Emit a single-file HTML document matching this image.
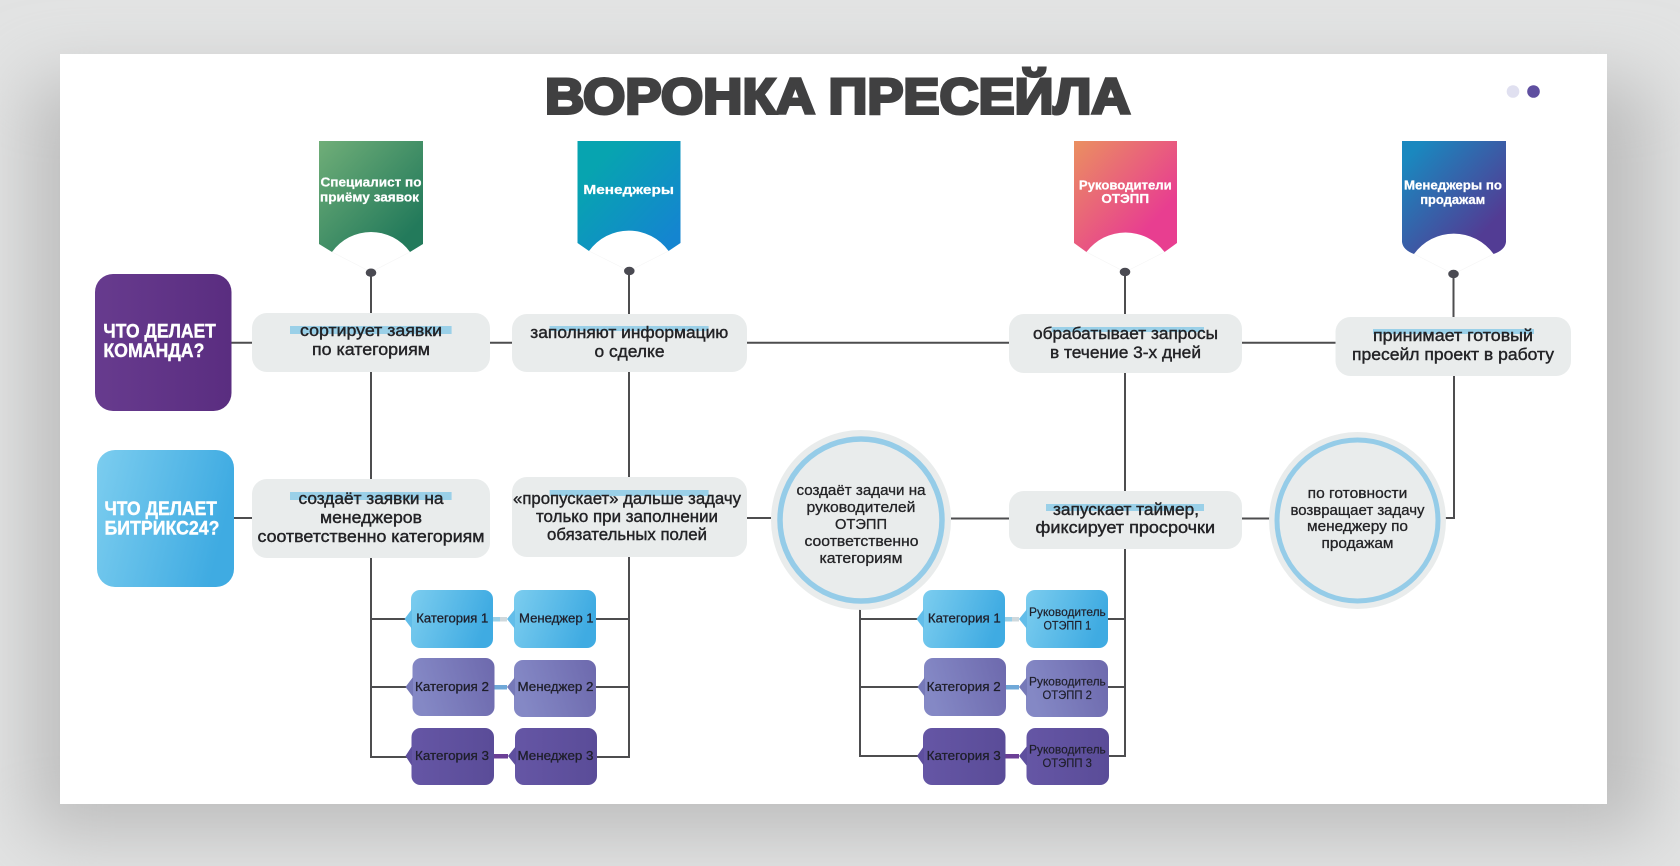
<!DOCTYPE html>
<html lang="ru"><head><meta charset="utf-8"><title>Воронка пресейла</title>
<style>
html,body{margin:0;padding:0;width:1680px;height:866px;overflow:hidden;background:#e2e3e3}
svg{display:block;position:absolute;left:0;top:0}
text{font-family:"Liberation Sans",sans-serif}
.b{font-size:16.5px;fill:#232326;text-anchor:middle;stroke:#232326;stroke-width:.4;}
.c{font-size:14.5px;fill:#232326;text-anchor:middle;stroke:#232326;stroke-width:.3}
.w{font-size:13px;font-weight:bold;fill:#fff;text-anchor:middle;stroke:#fff;stroke-width:.25}
.h{font-size:19px;font-weight:bold;fill:#fff;stroke:#fff;stroke-width:.4}
.s{font-size:13px;fill:#1f1f2b;stroke:#1f1f2b;stroke-width:.3;text-anchor:middle}
.r{font-size:12px;fill:#1f1f2b;stroke:#1f1f2b;stroke-width:.2;text-anchor:middle}
.t{font-size:50px;font-weight:bold;fill:#404041;stroke:#404041;stroke-width:3}
.l{stroke:#4d4d4f;stroke-width:2;fill:none}
.g{fill:#e9ecec}
.hl{fill:#9ad0e8}
</style></head><body>
<svg width="1680" height="866" viewBox="0 0 1680 866" xmlns="http://www.w3.org/2000/svg">
<defs>
<filter id="sh" x="-15%" y="-25%" width="130%" height="150%"><feGaussianBlur stdDeviation="35"/></filter>
<linearGradient id="gp" x1="0" x2="1" y1="0" y2="0"><stop offset="0" stop-color="#673b8e"/><stop offset="1" stop-color="#5a2d80"/></linearGradient>
<linearGradient id="r1" x1="0" x2="1" y1="0" y2=".25"><stop offset="0" stop-color="#7ccdef"/><stop offset="1" stop-color="#3fabe2"/></linearGradient>
<linearGradient id="r2" x1="0" x2="1" y1=".2" y2="0"><stop offset="0" stop-color="#8488c5"/><stop offset="1" stop-color="#6d69ad"/></linearGradient>
<linearGradient id="r3" x1="0" x2="1" y1="0" y2="0"><stop offset="0" stop-color="#6556a5"/><stop offset="1" stop-color="#5a4c98"/></linearGradient>
<linearGradient id="b1" x1="0" y1="0" x2="1" y2="1"><stop offset="0" stop-color="#70ae78"/><stop offset=".85" stop-color="#237a5b"/></linearGradient>
<linearGradient id="b2" x1="0" y1="0" x2="1" y2="1"><stop offset=".2" stop-color="#07a4b0"/><stop offset=".9" stop-color="#1485d0"/></linearGradient>
<linearGradient id="b3" x1="0" y1="0" x2="1" y2="1"><stop offset="0" stop-color="#ea9060"/><stop offset=".75" stop-color="#e83e90"/></linearGradient>
<linearGradient id="b4" x1="0" y1="0" x2="1" y2="1"><stop offset=".1" stop-color="#1a88bf"/><stop offset=".8" stop-color="#523c94"/></linearGradient>
</defs>
<rect x="30" y="80" width="1620" height="755" fill="#bdbdbd" filter="url(#sh)"/>
<rect x="60" y="54" width="1547" height="750" fill="#fff"/>

<text class="t" x="545" y="113.5" textLength="270" lengthAdjust="spacingAndGlyphs">ВОРОНКА</text>
<text class="t" x="828.5" y="113.5" textLength="302" lengthAdjust="spacingAndGlyphs">ПРЕСЕЙЛА</text>
<circle cx="1513" cy="91.5" r="6.3" fill="#e0e0f0"/><circle cx="1533.5" cy="91.5" r="6.3" fill="#5f4fa0"/>

<!-- lines -->
<g class="l">
<path d="M231 342.7H252M490 342.7H512M747 342.7H1009M1242 342.7H1336"/>
<path d="M234 518H252M747 518H771M951 518.5H1009M1242 518.5H1270M1445 518H1454V376"/>
<path d="M371 273V313M371 372V479M371 558V757H412M371 619H412M371 687H412"/>
<path d="M629 271V314M629 372V477M629 557V757H596M629 619H596M629 687H596"/>
<path d="M1125 272V314M1125 373V491M1125 549V756H1108M1125 619H1108M1125 687H1108"/>
<path d="M1453.5 274V317"/>
<path d="M860 600V756H924M860 619H924M860 687H924"/>
</g>

<!-- banners -->
<path d="M319 141H423V244L410 252A48 48 0 0 0 332 252L319 244Z" fill="url(#b1)"/>
<path d="M577.5 141H680.5V243L668.6 251A49 49 0 0 0 589 251L577.5 243Z" fill="url(#b2)"/>
<path d="M1074 141H1177V243L1164.6 252A49 49 0 0 0 1086.4 252L1074 243Z" fill="url(#b3)"/>
<path d="M1402 141H1506V242Q1505 250 1493.6 254A49 49 0 0 0 1414 254Q1403 250 1402 242Z" fill="url(#b4)"/>
<path d="M332 252L371 272L410 252M589 251L629 271L668.6 251M1086.4 252L1125 272L1164.6 252M1414 254L1453.5 274L1493.6 254" fill="none" stroke="#f5f5f5" stroke-width=".6"/>
<g fill="#4a4a52"><ellipse cx="371" cy="272.7" rx="5.3" ry="4.2"/><ellipse cx="629.3" cy="271" rx="5.3" ry="4.2"/><ellipse cx="1125" cy="272" rx="5.3" ry="4.2"/><ellipse cx="1453.5" cy="274" rx="5.3" ry="4.2"/></g>
<text class="w" x="371" y="186.5" textLength="101" lengthAdjust="spacingAndGlyphs">Специалист по</text>
<text class="w" x="369.5" y="201.7" textLength="99" lengthAdjust="spacingAndGlyphs">приёму заявок</text>
<text class="w" x="628.7" y="194" textLength="90.5" lengthAdjust="spacingAndGlyphs">Менеджеры</text>
<text class="w" x="1125.3" y="189.3" textLength="92.7" lengthAdjust="spacingAndGlyphs">Руководители</text>
<text class="w" x="1125.2" y="203" textLength="47.7" lengthAdjust="spacingAndGlyphs">ОТЭПП</text>
<text class="w" x="1453" y="189.5" textLength="98" lengthAdjust="spacingAndGlyphs">Менеджеры по</text>
<text class="w" x="1452.7" y="204" textLength="65" lengthAdjust="spacingAndGlyphs">продажам</text>

<!-- side boxes -->
<rect x="95" y="274" width="136.5" height="137" rx="18" fill="url(#gp)"/>
<rect x="97" y="450" width="137" height="137" rx="18" fill="url(#r1)"/>
<text class="h" x="103.4" y="337.7" textLength="112.5" lengthAdjust="spacingAndGlyphs">ЧТО ДЕЛАЕТ</text>
<text class="h" x="103.4" y="357" textLength="101" lengthAdjust="spacingAndGlyphs">КОМАНДА?</text>
<text class="h" x="104.5" y="515" textLength="112.5" lengthAdjust="spacingAndGlyphs">ЧТО ДЕЛАЕТ</text>
<text class="h" x="104.5" y="534.7" textLength="115" lengthAdjust="spacingAndGlyphs">БИТРИКС24?</text>

<!-- grey boxes -->
<rect class="g" x="252" y="313" width="238" height="59" rx="15"/>
<rect class="g" x="512" y="314" width="235" height="58" rx="15"/>
<rect class="g" x="1009" y="314" width="233" height="59" rx="15"/>
<rect class="g" x="1335.5" y="317" width="235.5" height="59" rx="15"/>
<rect class="g" x="252" y="479" width="238" height="79" rx="15"/>
<rect class="g" x="512" y="477" width="235" height="80" rx="15"/>
<rect class="g" x="1009" y="491" width="233" height="58" rx="15"/>
<!-- highlights -->
<rect class="hl" x="290" y="326" width="161.6" height="8"/>
<rect class="hl" x="549.6" y="326" width="159" height="5"/>
<rect class="hl" x="1051.6" y="327" width="152.4" height="5"/>
<rect class="hl" x="1373" y="329" width="161" height="5"/>
<rect class="hl" x="290" y="492" width="161.6" height="8"/>
<rect class="hl" x="549.6" y="490" width="159" height="6"/>
<rect class="hl" x="1046" y="504" width="158" height="7"/>

<text class="b" x="371" y="336" textLength="142" lengthAdjust="spacingAndGlyphs">сортирует заявки</text>
<text class="b" x="371" y="355" textLength="118" lengthAdjust="spacingAndGlyphs">по категориям</text>
<text class="b" x="629.3" y="338" textLength="198" lengthAdjust="spacingAndGlyphs">заполняют информацию</text>
<text class="b" x="629.5" y="357" textLength="70" lengthAdjust="spacingAndGlyphs">о сделке</text>
<text class="b" x="1125.5" y="339" textLength="185" lengthAdjust="spacingAndGlyphs">обрабатывает запросы</text>
<text class="b" x="1125.5" y="358" textLength="151" lengthAdjust="spacingAndGlyphs">в течение 3-х дней</text>
<text class="b" x="1453" y="341" textLength="160" lengthAdjust="spacingAndGlyphs">принимает готовый</text>
<text class="b" x="1453" y="360" textLength="202" lengthAdjust="spacingAndGlyphs">пресейл проект в работу</text>
<text class="b" x="371" y="504" textLength="145" lengthAdjust="spacingAndGlyphs">создаёт заявки на</text>
<text class="b" x="371" y="523" textLength="102" lengthAdjust="spacingAndGlyphs">менеджеров</text>
<text class="b" x="371" y="542" textLength="227" lengthAdjust="spacingAndGlyphs">соответственно категориям</text>
<text class="b" x="627" y="504" textLength="228" lengthAdjust="spacingAndGlyphs">«пропускает» дальше задачу</text>
<text class="b" x="627" y="522" textLength="182" lengthAdjust="spacingAndGlyphs">только при заполнении</text>
<text class="b" x="627" y="540" textLength="160" lengthAdjust="spacingAndGlyphs">обязательных полей</text>
<text class="b" x="1126" y="515" textLength="146" lengthAdjust="spacingAndGlyphs">запускает таймер,</text>
<text class="b" x="1125.3" y="533" textLength="179.5" lengthAdjust="spacingAndGlyphs">фиксирует просрочки</text>

<!-- circles -->
<circle cx="861" cy="520" r="90" class="g"/>
<circle cx="861" cy="520" r="81" fill="none" stroke="#95cce8" stroke-width="5.5"/>
<circle cx="1357.5" cy="520.5" r="88.5" class="g"/>
<circle cx="1357.5" cy="520.5" r="80.5" fill="none" stroke="#95cce8" stroke-width="5"/>
<text class="c" x="861" y="495" textLength="129" lengthAdjust="spacingAndGlyphs">создаёт задачи на</text>
<text class="c" x="861" y="512" textLength="109" lengthAdjust="spacingAndGlyphs">руководителей</text>
<text class="c" x="861" y="529" textLength="52" lengthAdjust="spacingAndGlyphs">ОТЭПП</text>
<text class="c" x="861.5" y="546" textLength="114" lengthAdjust="spacingAndGlyphs">соответственно</text>
<text class="c" x="861" y="563" textLength="83" lengthAdjust="spacingAndGlyphs">категориям</text>
<text class="c" x="1357.5" y="498" textLength="99.6" lengthAdjust="spacingAndGlyphs">по готовности</text>
<text class="c" x="1357.5" y="515" textLength="134" lengthAdjust="spacingAndGlyphs">возвращает задачу</text>
<text class="c" x="1357.5" y="531" textLength="101" lengthAdjust="spacingAndGlyphs">менеджеру по</text>
<text class="c" x="1357.5" y="548" textLength="72" lengthAdjust="spacingAndGlyphs">продажам</text>

<!-- small boxes -->
<path d="M493 617h7v4.5h-7z" fill="#9ad0e8"/><path d="M500 617h7v4.5h-7z" fill="#cfd8dc"/>
<rect x="494" y="685" width="13" height="4.5" fill="#6fa8d8"/>
<rect x="494" y="754" width="14" height="4.5" fill="#6b3f96"/>
<path d="M1005 617h7v4.5h-7z" fill="#9ad0e8"/><path d="M1012 617h7v4.5h-7z" fill="#cfd8dc"/>
<rect x="1006" y="685" width="13" height="4.5" fill="#6fa8d8"/>
<rect x="1005" y="754" width="14" height="4.5" fill="#6b3f96"/>

<g fill="url(#r1)">
<rect x="411" y="590" width="82" height="58" rx="9"/><path d="M412 609L404.5 619L412 629Z" fill="#62bde9"/>
<rect x="514" y="590" width="82" height="58" rx="9"/><path d="M515 609L507 619L515 629Z" fill="#62bde9"/>
<rect x="923" y="590" width="82" height="58" rx="9"/><path d="M924 609L916.5 619L924 629Z" fill="#62bde9"/>
<rect x="1026" y="590" width="82" height="58" rx="9"/><path d="M1027 609L1019 619L1027 629Z" fill="#62bde9"/>
</g>
<g fill="url(#r2)">
<rect x="412.5" y="658" width="82" height="58" rx="9"/><path d="M413 677L405.5 687L413 697Z" fill="#7679b8"/>
<rect x="514" y="660" width="82" height="57" rx="9"/><path d="M515 677L507 687L515 697Z" fill="#7679b8"/>
<rect x="924" y="658" width="82" height="58" rx="9"/><path d="M925 677L917.5 687L925 697Z" fill="#7679b8"/>
<rect x="1026" y="660" width="82" height="57" rx="9"/><path d="M1027 677L1019 687L1027 697Z" fill="#7679b8"/>
</g>
<g fill="url(#r3)">
<rect x="411.5" y="728" width="82.5" height="57" rx="9"/><path d="M412 746L405.5 756L412 766Z" fill="#5e4f9e"/>
<rect x="515" y="728" width="82" height="57" rx="9"/><path d="M516 746L508 756L516 766Z" fill="#5e4f9e"/>
<rect x="923" y="728" width="82.5" height="57" rx="9"/><path d="M924 746L917 756L924 766Z" fill="#5e4f9e"/>
<rect x="1026.5" y="728" width="82.5" height="57" rx="9"/><path d="M1027 746L1019 756L1027 766Z" fill="#5e4f9e"/>
</g>
<text class="s" x="452.3" y="622.3" textLength="72" lengthAdjust="spacingAndGlyphs">Категория 1</text>
<text class="s" x="556.3" y="622.3" textLength="74.6" lengthAdjust="spacingAndGlyphs">Менеджер 1</text>
<text class="s" x="452" y="691" textLength="74" lengthAdjust="spacingAndGlyphs">Категория 2</text>
<text class="s" x="555.5" y="691" textLength="76" lengthAdjust="spacingAndGlyphs">Менеджер 2</text>
<text class="s" x="452" y="760" textLength="74" lengthAdjust="spacingAndGlyphs">Категория 3</text>
<text class="s" x="555.5" y="760" textLength="76" lengthAdjust="spacingAndGlyphs">Менеджер 3</text>
<text class="s" x="964.3" y="622.3" textLength="72.8" lengthAdjust="spacingAndGlyphs">Категория 1</text>
<text class="s" x="963.7" y="691" textLength="74" lengthAdjust="spacingAndGlyphs">Категория 2</text>
<text class="s" x="963.7" y="760" textLength="74" lengthAdjust="spacingAndGlyphs">Категория 3</text>
<text class="r" x="1067.4" y="616" textLength="76.7" lengthAdjust="spacingAndGlyphs">Руководитель</text>
<text class="r" x="1067.3" y="629.7" textLength="47.7" lengthAdjust="spacingAndGlyphs">ОТЭПП 1</text>
<text class="r" x="1067.4" y="685.7" textLength="76.7" lengthAdjust="spacingAndGlyphs">Руководитель</text>
<text class="r" x="1067.2" y="699" textLength="49.3" lengthAdjust="spacingAndGlyphs">ОТЭПП 2</text>
<text class="r" x="1067.4" y="753.7" textLength="76.7" lengthAdjust="spacingAndGlyphs">Руководитель</text>
<text class="r" x="1067.2" y="767" textLength="49.3" lengthAdjust="spacingAndGlyphs">ОТЭПП 3</text>
</svg>
</body></html>
